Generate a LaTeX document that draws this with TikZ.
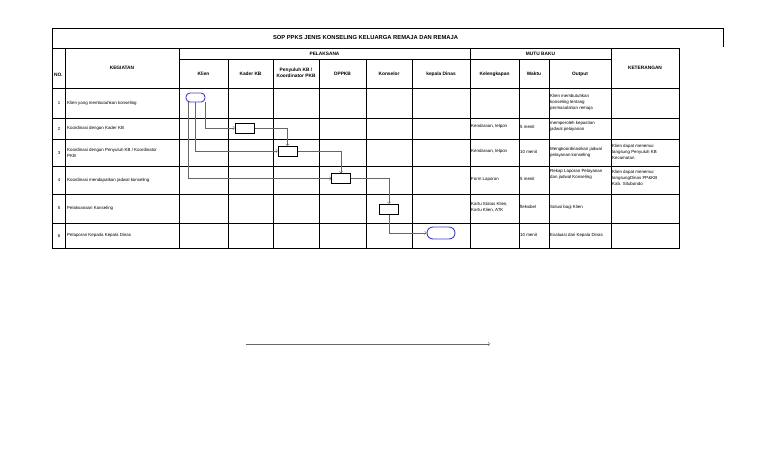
\documentclass[tikz,border=0pt]{standalone}
\usepackage{fontspec}
\setmainfont{Liberation Sans}
\usepackage{tikz}
\usetikzlibrary{shapes}
\pgfdeclarelayer{edgelayer}
\pgfdeclarelayer{nodelayer}
\pgfsetlayers{edgelayer,nodelayer,main}
\tikzstyle{none}=[inner sep=0pt]
\definecolor{flowblue}{rgb}{0.25,0.25,0.8}
\definecolor{linegray}{rgb}{0.4,0.4,0.4}
\tikzstyle{cell}=[inner sep=0pt, anchor=west, align=left, font=\fontsize{4.4}{6}\selectfont]
\tikzstyle{head}=[inner sep=0pt, align=center, font=\bfseries\fontsize{4.8}{6}\selectfont]
\tikzstyle{grid}=[line width=0.8pt, color=black]
\tikzstyle{flow}=[->, color=linegray, line width=0.5pt]
\tikzstyle{terminal}=[inner sep=0pt, rounded corners=4pt, draw=flowblue, line width=0.9pt, fill=white]
\tikzstyle{process}=[inner sep=0pt, draw=black, line width=0.6pt, fill=white, minimum width=19pt, minimum height=10pt]

\begin{document}
\begin{tikzpicture}[x=1pt, y=-1pt]
	\useasboundingbox (0, 0) rectangle (768, 466);
	\begin{pgfonlayer}{nodelayer}
		\node [style=terminal, minimum width=19pt, minimum height=9pt] (0) at (195.5, 97.5) {};
		\node [style=process] (1) at (244.5, 128) {};
		\node [style=process] (2) at (287.5, 151) {};
		\node [style=process] (3) at (341, 178.5) {};
		\node [style=process] (4) at (389, 209) {};
		\node [style=terminal, minimum width=28pt, minimum height=12pt, rounded corners=6pt] (5) at (441, 233) {};
		\coordinate (6) at (246, 344);
		\coordinate (7) at (490, 344);
		\node [style=none, font=\bfseries\fontsize{5.8}{7}\selectfont] (9) at (365.5, 37.5) {SOP PPKS JENIS KONSELING KELUARGA REMAJA DAN REMAJA};
		\node [style=head] (10) at (58.5, 75) {NO.};
		\node [style=head] (11) at (122, 68) {KEGIATAN};
		\node [style=head] (12) at (324.5, 53.5) {PELAKSANA};
		\node [style=head] (13) at (203.5, 74) {Klien};
		\node [style=head] (14) at (250.5, 74) {Kader KB};
		\node [style=head] (15) at (296, 73) {Penyuluh KB /\\Koordinator PKB};
		\node [style=head] (16) at (342.5, 74) {DPPKB};
		\node [style=head] (17) at (389, 74) {Konselor};
		\node [style=head] (18) at (441, 74) {kepala Dinas};
		\node [style=head] (19) at (540.5, 53.5) {MUTU BAKU};
		\node [style=head] (20) at (494.5, 74) {Kelengkapan};
		\node [style=head] (21) at (534, 74) {Waktu};
		\node [style=head] (22) at (580, 74) {Output};
		\node [style=head] (23) at (645, 68) {KETERANGAN};
		\node [style=cell, anchor=center] (24) at (59, 103) {1};
		\node [style=cell, anchor=center] (25) at (59, 128.5) {2};
		\node [style=cell, anchor=center] (26) at (59, 152.5) {3};
		\node [style=cell, anchor=center] (27) at (59, 180) {4};
		\node [style=cell, anchor=center] (28) at (59, 208.5) {5};
		\node [style=cell, anchor=center] (29) at (59, 235.5) {6};
		\node [style=cell] (30) at (67, 103) {Klien yang membutuhkan konseling};
		\node [style=cell] (31) at (67, 128.5) {Koordinasi dengan Kader KB};
		\node [style=cell] (32) at (67, 152.5) {Koordinasi dengan Penyuluh KB / Koordinator\\PKB};
		\node [style=cell] (33) at (67, 180) {Koordinasi mendapatkan jadwal konseling};
		\node [style=cell] (34) at (67, 208.5) {Pelaksanaan Konseling};
		\node [style=cell] (35) at (67, 235.5) {Pelaporan Kepada Kepala Dinas};
		\node [style=cell] (36) at (471, 126.5) {Kendaraan, telpon};
		\node [style=cell] (37) at (471, 151.5) {Kendaraan, telpon};
		\node [style=cell] (38) at (471, 179) {Form Laporan};
		\node [style=cell] (39) at (471, 207) {Kartu Status Klien,\\Kartu Klien, ATK};
		\node [style=cell] (41) at (520, 126.5) {5 menit};
		\node [style=cell] (42) at (520, 151.5) {10 menit};
		\node [style=cell] (43) at (520, 179) {5 menit};
		\node [style=cell] (44) at (520, 207) {fleksibel};
		\node [style=cell] (45) at (520, 235) {10 menit};
		\node [style=cell] (46) at (550, 102) {Klien membutuhkan\\konseling tentang\\permasalahan remaja};
		\node [style=cell] (47) at (550, 126.5) {memperoleh kepastian\\jadwal pelayanan};
		\node [style=cell] (48) at (550, 152) {Mengkoordinasikan jadwal\\pelayanan konseling};
		\node [style=cell] (49) at (550, 174.5) {Rekap Laporan Pelayanan\\dan jadwal Konseling};
		\node [style=cell] (50) at (550, 207) {Solusi bagi Klien};
		\node [style=cell] (51) at (550, 235) {Evaluasi dari Kepala Dinas};
		\node [style=cell] (52) at (612, 152) {Klien dapat menemui\\langsung Penyuluh KB\\Kecamatan};
		\node [style=cell] (53) at (612, 178) {Klien dapat menemui\\langsungDinas PP\&KB\\Kab. Situbondo};
	\end{pgfonlayer}
	\begin{pgfonlayer}{edgelayer}
		% table
		\draw [style=grid] (52, 248) -- (52, 28) -- (723, 28) -- (723, 47);
		\draw [style=grid] (52, 48) -- (679, 48) -- (679, 248) -- (52, 248);
		\draw [style=grid] (179, 59) -- (611, 59);
		\draw [style=grid] (52, 88) -- (679, 88);
		\draw [style=grid] (52, 118) -- (679, 118);
		\draw [style=grid] (52, 139) -- (679, 139);
		\draw [style=grid] (52, 166) -- (679, 166);
		\draw [style=grid] (52, 194) -- (679, 194);
		\draw [style=grid] (52, 223) -- (679, 223);
		\draw [style=grid] (65, 48) -- (65, 248);
		\draw [style=grid] (179, 48) -- (179, 248);
		\draw [style=grid] (228, 59) -- (228, 248);
		\draw [style=grid] (273, 59) -- (273, 248);
		\draw [style=grid] (319, 59) -- (319, 248);
		\draw [style=grid] (366, 59) -- (366, 248);
		\draw [style=grid] (412, 59) -- (412, 248);
		\draw [style=grid] (470, 48) -- (470, 248);
		\draw [style=grid] (519, 59) -- (519, 248);
		\draw [style=grid] (549, 59) -- (549, 248);
		\draw [style=grid] (611, 48) -- (611, 248);
		% flow
		\draw [style=flow] ([xshift=9.5pt]0.south) |- (1.west);
		\draw [style=flow] (0.south) |- (2.west);
		\draw [style=flow] ([xshift=-7.5pt]0.south) |- (3.west);
		\draw [style=flow] (1.east) -| (2.north);
		\draw [style=flow] (2.east) -| (3.north);
		\draw [style=flow] (3.east) -| (4.north);
		\draw [style=flow] (4.south) |- (5.west);
		\draw [style=flow] (6) -- (7);
	\end{pgfonlayer}
\end{tikzpicture}
\end{document}
